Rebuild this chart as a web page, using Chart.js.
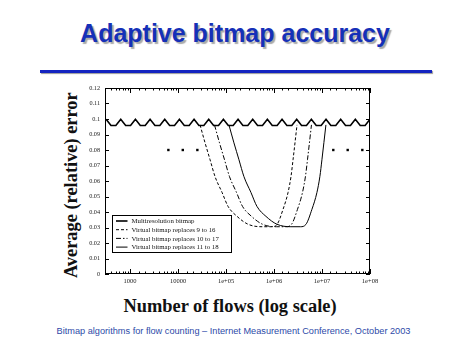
<!DOCTYPE html>
<html><head><meta charset="utf-8">
<script src="https://cdn.jsdelivr.net/npm/chart.js@4.4.0/dist/chart.umd.min.js"></script>
<style>
html,body{margin:0;padding:0;background:#fff;}
body{width:474px;height:355px;position:relative;overflow:hidden;}
#c{position:absolute;left:0;top:0;}
.t{position:absolute;white-space:nowrap;}
#title{left:-2px;width:474px;text-align:center;top:20.5px;font:bold 25px/25px "Liberation Sans",Arial,sans-serif;color:#1530b8;text-shadow:2px 2px 1px #aaa;}
#rule{position:absolute;left:40px;top:69.5px;width:392px;height:3px;background:#1424c0;box-shadow:1px 1px 1px #999;}
#ytitle{left:-54px;top:175.8px;width:250px;height:18.4px;text-align:center;font:bold 18.4px/18.4px "Liberation Serif","Times New Roman",serif;color:#111;transform:rotate(-90deg);}
#xtitle{left:0;width:460px;text-align:center;top:297px;font:bold 18.4px/18.4px "Liberation Serif","Times New Roman",serif;color:#111;}
#foot{left:0;width:467px;text-align:center;top:327.2px;font:9.2px/9.2px "Liberation Sans",Arial,sans-serif;color:#2d4aa8;}
</style></head><body>
<div class="t" id="title">Adaptive bitmap accuracy</div>
<div id="rule"></div>
<div class="t" id="ytitle">Average (relative) error</div>
<div class="t" id="xtitle">Number of flows (log scale)</div>
<div class="t" id="foot">Bitmap algorithms for flow counting – Internet Measurement Conference, October 2003</div>
<canvas id="c" width="474" height="355"></canvas>
<script>
// ---- data ----
const xMin = 300, xMax = 100000000;
const yMin = 0, yMax = 0.12, yStep = 0.01;
const xTickLabels = ['1000','10000','1e+05','1e+06','1e+07','1e+08'];

const seriesLabels = ['Multiresolution bitmap','Virtual bitmap replaces 9 to 16','Virtual bitmap replaces 10 to 17','Virtual bitmap replaces 11 to 18'];

const multiX = [316,400,505, 639,808,1022, 1292,1633,2066, 2610,3299,4173, 5275,6668,8435,
  10660,13474,17045, 21544,27232,34449, 43540,55035,69620, 88000,111232,140712,
  177828,224775,284347, 359400,454282,574681, 726300,918043,1161354,
  1468000,1855552,2347332, 2966000,3749024,4742634, 5995000,7577680,9586005,
  12115000,15313360,19371885, 24480000,30942720,39143520, 49480000,62542720,79118520, 100000000];
const multiY = [0.0998,0.0958,0.0958, 0.0998,0.0958,0.0958, 0.0998,0.0958,0.0958, 0.0998,0.0958,0.0958,
  0.0998,0.0958,0.0958, 0.0998,0.0958,0.0958, 0.0998,0.0958,0.0958, 0.0998,0.0958,0.0958,
  0.0998,0.0958,0.0958, 0.0998,0.0958,0.0958, 0.0998,0.0958,0.0958, 0.0998,0.0958,0.0958,
  0.0998,0.0958,0.0958, 0.0998,0.0958,0.0958, 0.0998,0.0958,0.0958, 0.0998,0.0958,0.0958,
  0.0998,0.0958,0.0958, 0.0998,0.0958,0.0958, 0.0998];

const vb9X  = [28710,36520,46450,59020,82600,110200,169400,287100,562300,891300,1154800,1539900,1959000,2259000,2489000,3013000];
const vb9Y  = [0.0962,0.0846,0.0737,0.0628,0.0526,0.0436,0.0372,0.0321,0.0305,0.0305,0.0320,0.0417,0.0526,0.0630,0.0737,0.0962];
const vb10X = [57420,73040,92900,118040,165200,220400,338800,574200,1124600,1782600,2309600,3079800,3918000,4518000,4978000,6026000];
const vb10Y = [0.0962,0.0846,0.0737,0.0628,0.0526,0.0436,0.0372,0.0321,0.0305,0.0305,0.0320,0.0417,0.0526,0.0630,0.0737,0.0962];
const vb11X = [114840,146080,185800,236080,330400,440800,677600,1148400,2249200,3565200,4619200,6159600,7836000,9036000,9956000,12052000];
const vb11Y = [0.0962,0.0846,0.0737,0.0628,0.0526,0.0436,0.0372,0.0321,0.0305,0.0305,0.0320,0.0417,0.0526,0.0630,0.0737,0.0962];

const dotsX = [6280,12530,25230,17180000,34280000,69180000];
const dotsY = [0.08,0.08,0.08,0.08,0.08,0.08];

// ---- build ----
const pts = (xs, ys) => xs.map((x, i) => ({x, y: ys[i]}));
const isPow10 = v => { const l = Math.log10(v); return Math.abs(l - Math.round(l)) < 1e-6; };

const frame = {
  id: 'frame',
  afterDraw(chart) {
    const {ctx, chartArea: a, scales} = chart;
    const xs = scales.x, ys = scales.y;
    ctx.save();
    ctx.strokeStyle = '#000'; ctx.lineWidth = 1;
    ctx.strokeRect(a.left + 0.5, a.top + 0.5, a.width - 1, a.height - 1);
    ctx.beginPath();
    xs.ticks.forEach(t => {
      const px = Math.round(xs.getPixelForValue(t.value)) + 0.5;
      const len = isPow10(t.value) ? 5 : 2.5;
      ctx.moveTo(px, a.bottom); ctx.lineTo(px, a.bottom - len);
      ctx.moveTo(px, a.top); ctx.lineTo(px, a.top + len);
    });
    ys.ticks.forEach(t => {
      const py = Math.round(ys.getPixelForValue(t.value)) + 0.5;
      ctx.moveTo(a.left, py); ctx.lineTo(a.left + 4, py);
      ctx.moveTo(a.right, py); ctx.lineTo(a.right - 4, py);
    });
    ctx.stroke();
    ctx.restore();
  }
};

const boxLegend = {
  id: 'boxLegend',
  afterDraw(chart) {
    const {ctx, chartArea: a} = chart;
    const items = chart.data.datasets.filter(d => d.inLegend);
    const x0 = Math.round(a.left + 7) + 0.5, y0 = Math.round(a.bottom - 59) + 0.5, w = 119, h = 37;
    ctx.save();
    ctx.fillStyle = '#fff'; ctx.fillRect(x0, y0, w, h);
    ctx.strokeStyle = '#000'; ctx.lineWidth = 1; ctx.strokeRect(x0, y0, w, h);
    ctx.font = '6.8px "Liberation Serif", serif';
    ctx.textBaseline = 'middle'; ctx.fillStyle = '#111';
    items.forEach((d, i) => {
      const y = y0 + 5.5 + i * 8.7;
      ctx.beginPath();
      ctx.setLineDash(d.borderDash || []);
      ctx.lineWidth = d.borderWidth;
      ctx.moveTo(x0 + 3.5, y); ctx.lineTo(x0 + 15, y);
      ctx.stroke();
      ctx.setLineDash([]);
      ctx.fillText(d.label, x0 + 19, y + 0.5);
    });
    ctx.restore();
  }
};

const lineBase = {showLine: true, pointRadius: 0, borderColor: '#000', fill: false, inLegend: true};

new Chart(document.getElementById('c'), {
  type: 'scatter',
  data: {
    datasets: [
      Object.assign({}, lineBase, {label: seriesLabels[0], data: pts(multiX, multiY), borderWidth: 1.6, tension: 0}),
      Object.assign({}, lineBase, {label: seriesLabels[1], data: pts(vb9X, vb9Y), borderWidth: 1, borderDash: [3, 2], cubicInterpolationMode: 'monotone'}),
      Object.assign({}, lineBase, {label: seriesLabels[2], data: pts(vb10X, vb10Y), borderWidth: 1, borderDash: [5, 2, 1.5, 2], cubicInterpolationMode: 'monotone'}),
      Object.assign({}, lineBase, {label: seriesLabels[3], data: pts(vb11X, vb11Y), borderWidth: 1, cubicInterpolationMode: 'monotone'}),
      {label: 'dots', data: pts(dotsX, dotsY), showLine: false, pointStyle: 'rect', pointRadius: 1.7,
       backgroundColor: '#000', borderColor: '#000', borderWidth: 0, inLegend: false}
    ]
  },
  options: {
    responsive: false, animation: false, devicePixelRatio: 1,
    layout: {padding: {left: 71, right: 92, top: 82, bottom: 65}},
    plugins: {legend: {display: false}, tooltip: {enabled: false}},
    scales: {
      x: {
        type: 'logarithmic', position: 'bottom', min: xMin, max: xMax,
        grid: {display: false, drawTicks: false}, border: {display: false},
        ticks: {
          autoSkip: false, maxRotation: 0, padding: 3, color: '#222',
          font: {family: '"Liberation Serif", serif', size: 6.5},
          callback: v => isPow10(v) ? (xTickLabels[Math.round(Math.log10(v)) - 3] || '') : ''
        },
        afterFit: s => { s.height = 16; }
      },
      x2: {
        type: 'logarithmic', position: 'top', min: xMin, max: xMax,
        grid: {display: false, drawTicks: false}, border: {display: false},
        ticks: {display: false}, afterFit: s => { s.height = 6; }
      },
      y: {
        type: 'linear', position: 'left', min: yMin, max: yMax,
        grid: {display: false, drawTicks: false}, border: {display: false},
        ticks: {
          stepSize: yStep, padding: 5, color: '#222',
          font: {family: '"Liberation Serif", serif', size: 6.2},
          callback: v => String(parseFloat(v.toFixed(2)))
        },
        afterFit: s => { s.width = 34; }
      },
      y2: {
        type: 'linear', position: 'right', min: yMin, max: yMax,
        grid: {display: false, drawTicks: false}, border: {display: false},
        ticks: {display: false}, afterFit: s => { s.width = 12; }
      }
    }
  },
  plugins: [frame, boxLegend]
});
</script>
</body></html>
